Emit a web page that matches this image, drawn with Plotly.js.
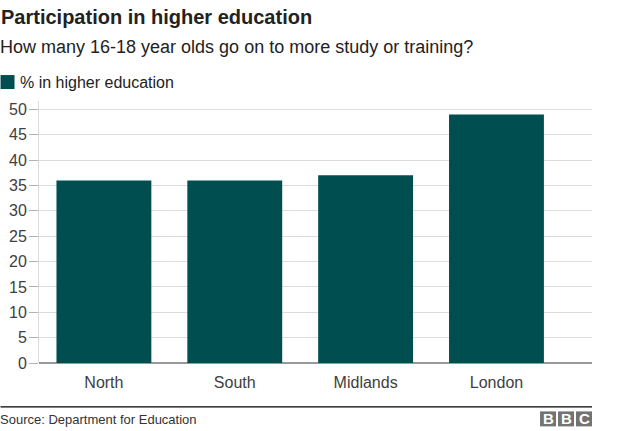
<!DOCTYPE html>
<html><head><meta charset="utf-8">
<script src="https://cdn.plot.ly/plotly-3.0.1.min.js"></script>
<style>html,body{margin:0;padding:0;background:#fff}</style></head>
<body><div id="chart" style="width:624px;height:431px"></div>
<script>
const categories = ["North","South","Midlands","London"];
const values = [36,36,37,49];
const yTicks = [0,5,10,15,20,25,30,35,40,45,50];
const barColor = "#004e4f";
const W=624,H=431;
const F="Liberation Sans, Arial, sans-serif";
const L=38.5,R=592,T=101,B=363.5;
function text(s,x,y,size,color,weight){return {text:weight?"<b>"+s+"</b>":s,xref:"paper",yref:"paper",
  x:(x-L)/(R-L),y:(B-y)/(B-T),xanchor:"left",yanchor:"middle",showarrow:false,align:"left",
  font:{family:F,size:size,color:color},borderpad:0,borderwidth:0};}
function rect(x0,y0,x1,y1,c){return {type:"rect",xref:"paper",yref:"paper",x0:(x0-L)/(R-L),x1:(x1-L)/(R-L),
  y0:(B-y0)/(B-T),y1:(B-y1)/(B-T),fillcolor:c,line:{width:0},layer:"above"};}
function bbc(x,ch){return {text:"<b>"+ch+"</b>",xref:"paper",yref:"paper",x:(x-L)/(R-L),y:(B-419.5)/(B-T),xanchor:"center",yanchor:"middle",
  showarrow:false,font:{family:F,size:15,color:"#fff"},borderpad:0};}
const layout={width:W,height:H,margin:{l:L,r:W-R,t:T,b:H-B},paper_bgcolor:"#fff",plot_bgcolor:"#fff",showlegend:false,
 bargap:0.275,
 font:{family:F},
 xaxis:{type:"category",range:[-0.496,3.73],showgrid:false,ticks:"",showline:false,zeroline:false,
   tickfont:{family:F,size:16,color:"#404040"},tickmode:"array",tickvals:categories,ticktext:categories,ticklabelstandoff:8},
 yaxis:{range:[0,51.65],tickmode:"array",tickvals:yTicks,ticks:"outside",ticklen:9,tickcolor:"#b3b3b3",tickwidth:1,
   gridcolor:"#dcdcdc",gridwidth:1,zeroline:true,zerolinecolor:"#999999",zerolinewidth:1.5,showline:true,linecolor:"#dcdcdc",linewidth:1,
   tickfont:{family:F,size:16,color:"#404040"},ticklabelstandoff:-1},
 annotations:[
  text("Participation in higher education",0,17,20,"#222222",true),
  text("How many 16-18 year olds go on to more study or training?",-1,47,18,"#222222",false),
  text("% in higher education",19,82,16,"#222222",false),
  text("Source: Department for Education",-1,420,13,"#333333",false),
  bbc(548,"B"),bbc(566,"B"),bbc(584,"C")
 ],
 shapes:[
  rect(0,75,14,89,barColor),
  {type:"line",xref:"paper",yref:"paper",x0:(0-L)/(R-L),x1:1,y0:(B-407.5)/(B-T),y1:(B-407.5)/(B-T),line:{color:"#000",width:1.2}},
  rect(540,412,556,427,"#737373"),rect(558,412,574,427,"#737373"),rect(576,412,592,427,"#737373")
 ]};
const data=[{type:"bar",x:categories,y:values,marker:{color:barColor,line:{width:0}},hoverinfo:"x+y",cliponaxis:false}];
Plotly.newPlot("chart",data,layout,{displayModeBar:false,staticPlot:true});
</script></body></html>
